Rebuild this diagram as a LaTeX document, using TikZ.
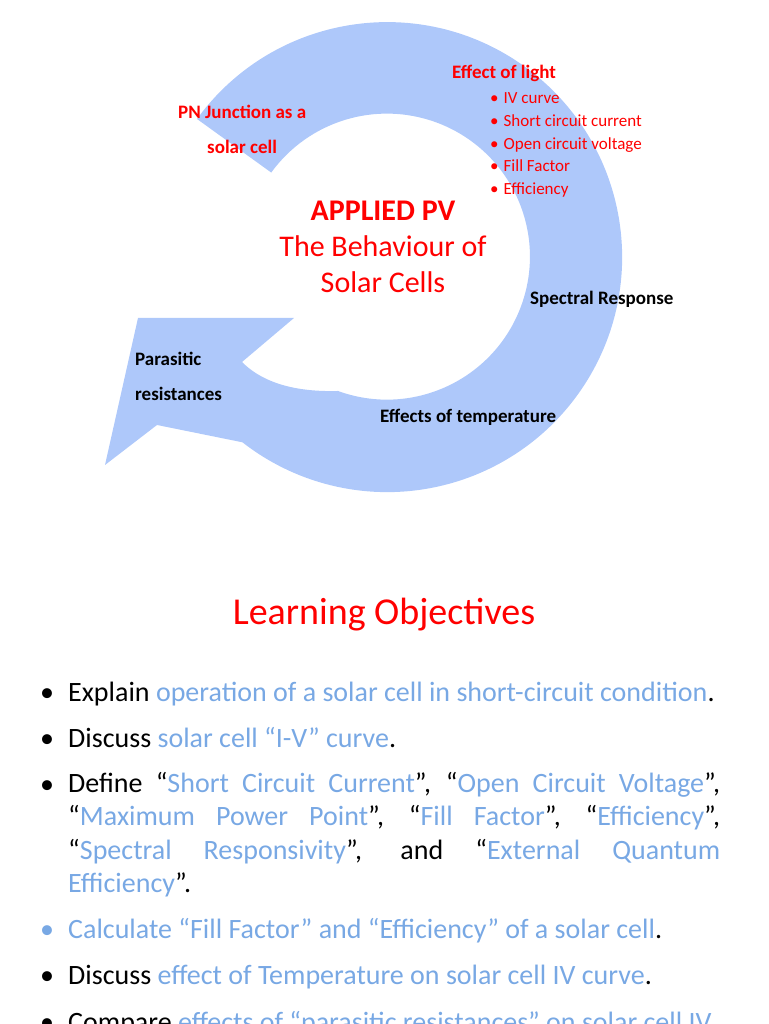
\documentclass[tikz,border=0pt]{standalone}
\usepackage{fontspec}
\setmainfont{Carlito}
\definecolor{ring}{RGB}{174,200,250}
\definecolor{lb}{RGB}{120,168,228}
\definecolor{rd}{RGB}{255,0,0}
\newcommand\bl[1]{\textcolor{lb}{#1}}
\tikzset{lab/.style={anchor=base west,inner sep=0pt},
  redb/.style={lab,text=rd,font=\bfseries\fontsize{19}{22}\selectfont},
  blkb/.style={lab,font=\bfseries\fontsize{19}{22}\selectfont},
  itm/.style={lab,font=\fontsize{17}{20}\selectfont,text=rd},
  obj/.style={lab,font=\fontsize{28}{33.5}\selectfont}}
\begin{document}
\begin{tikzpicture}[x=1pt,y=1pt]
\useasboundingbox (0,0) rectangle (768,1024);
\fill[ring] (197,905) arc[start angle=144,end angle=-128,radius=235]
  -- (157,599) -- (105,559) -- (138,706) -- (294,706) -- (242,662)
  .. controls (265,639) and (300,632) .. (338,633)
  arc[start angle=-110,end angle=144,radius=143] -- cycle;
% labels on the ring
\node[redb] (l1) at (452,945) {Effect of light};
\foreach \t [count=\i] in {IV curve,Short circuit current,Open circuit voltage,Fill Factor,Efficiency}
  \node[itm] (b\i) at (490,1024-104-22.6*\i+22.6) {\textbullet\hspace{5pt}\t};
\node[redb] (pn1) at (178,905) {PN Junction as a};
\node[redb] (pn2) at (207,870) {solar cell};
\node[anchor=base,text=rd,font=\bfseries\fontsize{30}{34}\selectfont] (ap) at (383,803) {APPLIED PV};
\node[anchor=base,text=rd,font=\fontsize{30}{34}\selectfont] (tb) at (383,767) {The Behaviour of};
\node[anchor=base,text=rd,font=\fontsize{30}{34}\selectfont] (sc) at (383,731) {Solar Cells};
\node[blkb] (sr) at (530,719) {Spectral Response};
\node[blkb] (pa1) at (135,658) {Parasitic};
\node[blkb] (pa2) at (135,623) {resistances};
\node[blkb] (et) at (380,601) {Effects of temperature};
% learning objectives
\node[anchor=base,text=rd,font=\fontsize{38}{44}\selectfont] (lo) at (384,399) {Learning Objectives};
\node[obj] (d1) at (40,322) {\textbullet};
\node[obj] (o1) at (68,322) {Explain \bl{operation of a solar cell in short-circuit condition}.};
\node[obj] (d2) at (40,276) {\textbullet};
\node[obj] (o2) at (68,276) {Discuss \bl{solar cell “I-V” curve}.};
\node[obj] (d3) at (40,230) {\textbullet};
\node[obj,anchor=north west,text width=652pt,align=justify] (o3) at (68,252)
 {\hyphenpenalty=10000 Define “\bl{Short Circuit Current}”, “\bl{Open Circuit Voltage}”,\linebreak “\bl{Maximum Power Point}”, “\bl{Fill Factor}”, “\bl{Efficiency}”,\linebreak “\bl{Spectral Responsivity}”, and “\bl{External Quantum}\linebreak \bl{Efficiency}”.};
\node[obj,text=lb] (d4) at (40,85) {\textbullet};
\node[obj] (o4) at (68,85) {\bl{Calculate “Fill Factor” and “Efficiency” of a solar cell}.};
\node[obj] (d5) at (40,39) {\textbullet};
\node[obj] (o5) at (68,39) {Discuss \bl{effect of Temperature on solar cell IV curve}.};
\node[obj] (d6) at (40,-7) {\textbullet};
\node[obj] (o6) at (68,-7) {Compare \bl{effects of “parasitic resistances” on solar cell IV}};
\end{tikzpicture}
\end{document}
